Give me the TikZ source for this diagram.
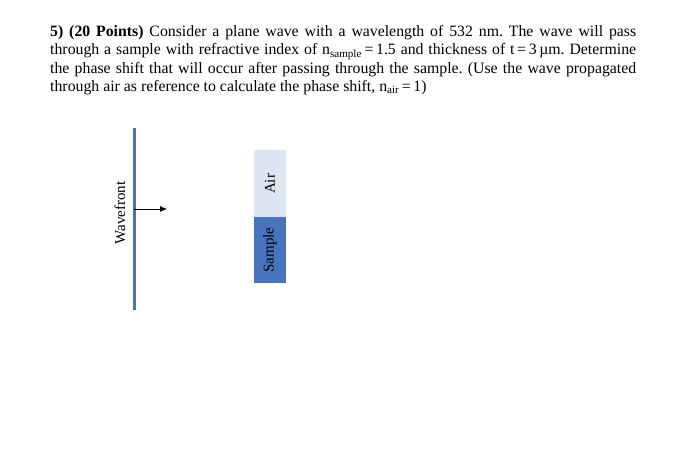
\documentclass[tikz,border=0pt]{standalone}
\usepackage{fontspec}
\setmainfont{Liberation Serif}
\usetikzlibrary{arrows.meta}
\frenchspacing
\definecolor{waveblue}{RGB}{75,115,185}
\definecolor{airblue}{RGB}{220,230,242}
\definecolor{sampleblue}{RGB}{72,116,190}
\tikzset{lbl/.style={rotate=90,font=\fontsize{15}{17}\selectfont}}
\begin{document}
\begin{tikzpicture}[x=1pt,y=-1pt]
\useasboundingbox (0,0) rectangle (700,462);
\node[anchor=north west,inner sep=0pt,text width=586pt,align=justify,font=\fontsize{15.8}{18.4}\selectfont] (q) at (50,25)
{\textbf{5) (20 Points)} Consider a plane wave with a wavelength of 532 nm. The wave will pass\linebreak
through a sample with refractive index of n\textsubscript{sample}\,=\,1.5 and thickness of t\,=\,3\,µm. Determine\linebreak
the phase shift that will occur after passing through the sample. (Use the wave propagated\linebreak
through air as reference to calculate the phase shift, n\textsubscript{air}\,=\,1)};
\coordinate (wtop) at (134,128);
\coordinate (wbot) at (134,310);
\coordinate (wmid) at (134,209);
\coordinate (tip) at (167,209);
\draw[waveblue,line width=3pt] (wtop) -- (wbot);
\draw[-{Latex[length=7pt,width=6pt]},thick] (wmid) -- (tip);
\node[lbl] (wf) at (120,213) {Wavefront};
\fill[airblue] (254,150) rectangle (286,217);
\fill[sampleblue] (254,217) rectangle (286,283);
\node[lbl] (air) at (270,184) {Air};
\node[lbl] (smp) at (270,250) {Sample};
\end{tikzpicture}
\end{document}
